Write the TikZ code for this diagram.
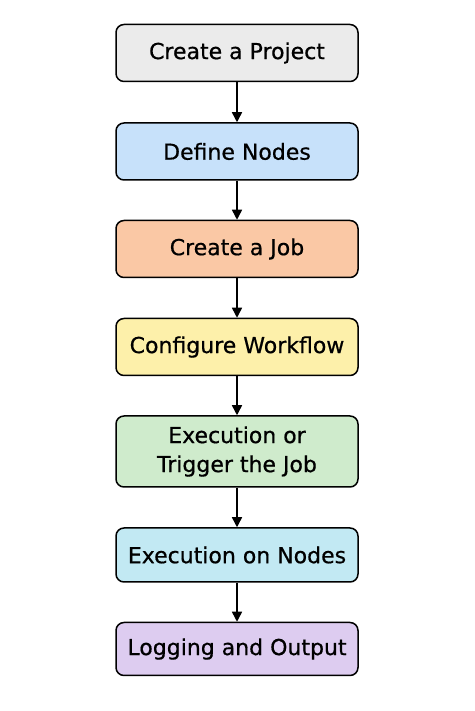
\documentclass[tikz,border=0pt]{standalone}
\usepackage{fontspec}
\setmainfont{DejaVu Sans}
\newfontfamily\boxfont[FakeBold=0.6]{DejaVu Sans}
\usetikzlibrary{arrows.meta}

\definecolor{projgray}{HTML}{EBEBEB}
\definecolor{nodeblue}{HTML}{C7E1FA}
\definecolor{jobpeach}{HTML}{FAC8A5}
\definecolor{flowyellow}{HTML}{FDF0AA}
\definecolor{trigreen}{HTML}{CFEBCC}
\definecolor{execcyan}{HTML}{C2E9F3}
\definecolor{loglilac}{HTML}{DDCCF0}

\begin{document}
\begin{tikzpicture}[x=1pt, y=1pt,
    box/.style={draw, line width=1.5pt, rounded corners=8pt, minimum width=242pt,
      minimum height=57pt, align=center, font=\boxfont\fontsize{22}{29}\selectfont},
    flow/.style={line width=1.5pt, -{Triangle[length=10pt, width=10pt]}}]
      \useasboundingbox (0, 0) rectangle (474, 711);

      % 箱を置く
      \node[box, fill=projgray] (P) at (237, 658) {Create a Project};
      \node[box, fill=nodeblue] (N) at (237, 559.5) {Define Nodes};
      \node[box, fill=jobpeach] (J) at (237, 462) {Create a Job};
      \node[box, fill=flowyellow] (W) at (237, 364) {Configure Workflow};
      \node[box, fill=trigreen, minimum height=71pt] (T) at (237, 259.5) {Execution or\\Trigger the Job};
      \node[box, fill=execcyan, minimum height=54pt] (E) at (237, 156) {Execution on Nodes};
      \node[box, fill=loglilac, minimum height=53pt] (L) at (237, 62) {Logging and Output};

      % 矢印を引く
      \draw[flow] (P) -- (N);
      \draw[flow] (N) -- (J);
      \draw[flow] (J) -- (W);
      \draw[flow] (W) -- (T);
      \draw[flow] (T) -- (E);
      \draw[flow] (E) -- (L);
    \end{tikzpicture}
\end{document}
